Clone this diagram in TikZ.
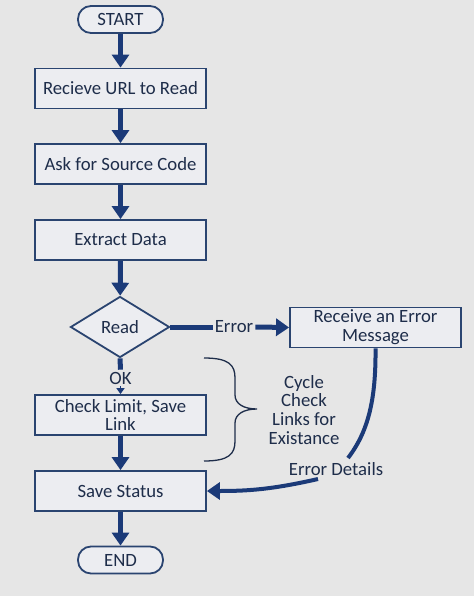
\documentclass[tikz,border=0pt]{standalone}
\usepackage{fontspec}
\setmainfont{Carlito}
\usetikzlibrary{arrows.meta,shapes.geometric}
\definecolor{bgc}{HTML}{E6E6E6}
\definecolor{navy}{HTML}{1B3A78}
\definecolor{boxline}{HTML}{2A4470}
\definecolor{boxfill}{HTML}{ECEDF1}
\definecolor{txt}{HTML}{1E2D4A}
\tikzset{
  base/.style={font=\fontsize{18.8}{19}\selectfont, text=txt},
  procbox/.style={base, draw=boxline, line width=1.8bp, fill=boxfill, minimum width=171bp, minimum height=40bp, inner sep=1bp, align=center},
  pill/.style={base, draw=boxline, line width=1.8bp, fill=boxfill, minimum width=85bp, minimum height=27bp, rounded corners=13bp, inner sep=1bp},
  decision/.style={base, diamond, draw=boxline, line width=1.8bp, fill=boxfill, aspect=1.62, minimum width=99bp, minimum height=61bp, inner sep=0bp},
  lbl/.style={base, inner sep=2bp, align=center},
  flowarrow/.style={draw=navy, line width=5bp, -{Triangle[length=13bp,width=17bp]}},
  flowline/.style={draw=navy, line width=5bp},
  smallarrow/.style={draw=navy, line width=1.5bp, -{Triangle[length=6bp,width=8bp]}},
  curvearrow/.style={draw=navy, line width=4bp, -{Triangle[length=13bp,width=17bp]}},
  curveline/.style={draw=navy, line width=4bp},
  bracestyle/.style={draw=txt, line width=1.3bp}
}
\begin{document}
\begin{tikzpicture}[x=1bp,y=-1bp]
\useasboundingbox[fill=bgc] (0,0) rectangle (474,596);
\node[pill] (start) at (120.5,19.5) {START};
\node[procbox] (b1) at (120.5,88.5) {Recieve URL to Read};
\node[procbox] (b2) at (120.5,164) {Ask for Source Code};
\node[procbox] (b3) at (120.5,240) {Extract Data};
\node[decision] (read) at (120,327) {Read};
\node[procbox] (err) at (375.5,327.5) {Receive an Error\\Message};
\node[procbox] (chk) at (120.5,415) {Check Limit, Save\\Link};
\node[procbox] (save) at (120.5,491) {Save Status};
\node[pill] (end) at (120.5,560) {END};
\node[lbl] (errlbl) at (234,327) {Error};
\node[lbl, inner sep=2bp] (ok) at (120.5,378) {OK};
\node[lbl] (cycle) at (304,410) {Cycle\\Check\\Links for\\Existance};
\node[lbl] (edl) at (336,469) {Error Details};
\coordinate (ed1) at (348,458);
\coordinate (ed2) at (318,479);

\draw[flowarrow] (start) -- (b1);
\draw[flowarrow] (b1) -- (b2);
\draw[flowarrow] (b2) -- (b3);
\draw[flowarrow] (b3) -- (read);
\draw[flowline] (read.east) -- (errlbl.west);
\draw[flowarrow] (errlbl.east) -- (err.west);
\draw[flowline] (read.south) -- (ok.north);
\draw[smallarrow] (ok.south) -- (chk.north);
\draw[flowarrow] (chk) -- (save);
\draw[flowarrow] (save) -- (end);
\draw[curveline] (err.south) .. controls (376,400) and (368,432) .. (ed1);
\draw[curvearrow] (ed2) .. controls (270,490) and (245,491) .. (save.east);
\draw[bracestyle] (204,358) .. controls (229,358) and (235,365) .. (235,378) -- (235,395)
  .. controls (235,404) and (244,409) .. (257,409)
  .. controls (244,409) and (235,414) .. (235,423) -- (235,441)
  .. controls (235,454) and (229,461) .. (204,461);
\end{tikzpicture}
\end{document}
